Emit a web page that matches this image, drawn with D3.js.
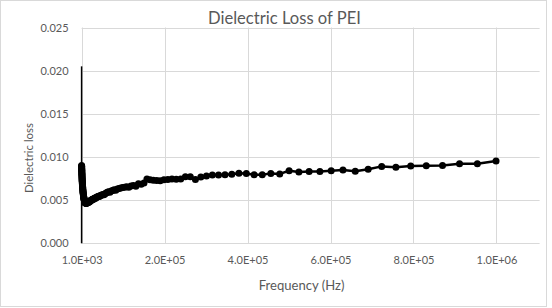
<!DOCTYPE html>
<html>
<head>
<meta charset="utf-8">
<script src="https://cdn.jsdelivr.net/npm/d3@7"></script>
<style>
html,body{margin:0;padding:0;background:#fff;}
svg{display:block;}
text{font-family:Lato,"Open Sans",sans-serif;fill:#595959;}
</style>
</head>
<body>
<svg id="chart" width="552" height="308"></svg>
<script>
// ---- data ----
const frequency = [
1000,1047,1096,1148,1202,1259,1318,1380,1445,1514,1585,1660,1738,1820,1905,1995,2089,2188,2291,2399,
2512,2630,2754,2884,3020,3162,3311,3467,3631,3802,3981,4169,4365,4571,4786,5012,5248,5495,5754,6026,
6310,6607,6918,7244,7586,7943,8318,8710,9120,9550,
10000,10470,10960,11480,12020,12590,13180,13800,14450,15140,15850,16600,17380,18200,19050,19950,20890,21880,22910,23990,
25120,26300,27540,28840,30200,31620,33110,34670,36310,38020,39810,41690,43650,45710,47860,50120,52480,54950,57540,60260,
63100,66070,69180,72440,75860,79430,83180,87100,91200,95500,
100000,104700,109600,114800,120200,125900,131800,138000,144500,151400,158500,166000,173800,182000,190500,199500,208900,218800,229100,239900,
251200,263000,275400,288400,302000,316200,331100,346700,363100,380200,398100,416900,436500,457100,478600,501200,524800,549500,575400,602600,
631000,660700,691800,724400,758600,794300,831800,871000,912000,955000,1000000
];
const dielectricLoss = [
0.0090,0.0089,0.0089,0.0088,0.0087,0.0086,0.0085,0.0085,0.0084,0.0083,0.0082,0.0081,0.0080,0.0079,0.0078,0.0077,0.0076,0.0075,0.0074,0.0073,
0.0072,0.0071,0.0070,0.0069,0.0068,0.0067,0.0066,0.0065,0.0064,0.0063,0.0062,0.0061,0.0060,0.0059,0.0058,0.0057,0.0056,0.0055,0.0054,0.0054,
0.0053,0.0052,0.0051,0.0051,0.0050,0.0049,0.0049,0.0048,0.0048,0.0047,
0.00470,0.00468,0.00465,0.00466,0.00463,0.00465,0.00468,0.00466,0.00470,0.00472,0.00470,0.00476,0.00478,0.00475,0.00482,0.00485,0.00490,0.00488,0.00495,0.00500,
0.00502,0.00506,0.00510,0.00508,0.00515,0.00520,0.00524,0.00522,0.00530,0.00536,0.00540,0.00545,0.00542,0.00550,0.00556,0.00560,0.00566,0.00563,0.00574,0.00582,
0.00590,0.00596,0.00592,0.00606,0.00612,0.00620,0.00616,0.00630,0.00636,0.00640,
0.00645,0.00650,0.00655,0.00648,0.00665,0.00670,0.00662,0.00690,0.00685,0.00700,0.00745,0.00735,0.00730,0.00728,0.00725,0.00735,0.00740,0.00745,0.00742,0.00745,
0.00770,0.00772,0.00740,0.00768,0.00780,0.00790,0.00792,0.00795,0.00800,0.00812,0.00808,0.00795,0.00795,0.00810,0.00804,0.00840,0.00827,0.00833,0.00833,0.00840,
0.00848,0.00835,0.00858,0.00891,0.00880,0.00896,0.00898,0.00900,0.00921,0.00921,0.00953
];
const spikeFrequency = [1000, 1000];
const spikeLoss = [0, 0.0205];
const xTicks = [1000, 201000, 401000, 601000, 801000, 1001000];
const yTicks = [0, 0.005, 0.010, 0.015, 0.020, 0.025];
const titleText = "Dielectric Loss of PEI";
const xTitle = "Frequency (Hz)";
const yTitle = "Dielectric loss";

// ---- layout ----
const W = 552, H = 308;
const plot = {left: 81.6, right: 539.6, top: 27.5, bottom: 243.3};
const svg = d3.select("#chart");

svg.append("rect").attr("x",0.5).attr("y",0.5).attr("width",546).attr("height",306)
  .attr("fill","#fff").attr("stroke","#d9d9d9").attr("stroke-width",1);

const x = d3.scaleLinear().domain([1000, 1105000]).range([plot.left, plot.right]);
const y = d3.scaleLinear().domain([0, 0.025]).range([plot.bottom, plot.top]);

const fmtX = v => {
  const s = d3.format(".1e")(v);
  const [m, e] = s.split("e");
  const sign = e[0];
  const digits = e.slice(1).padStart(2, "0");
  return m + "E" + sign + digits;
};

// gridlines
const grid = svg.append("g");
grid.selectAll("line.h").data(yTicks).join("line")
  .attr("x1", plot.left).attr("x2", plot.right)
  .attr("y1", d => Math.round(y(d)) + 0.5).attr("y2", d => Math.round(y(d)) + 0.5)
  .attr("stroke", "#d9d9d9").attr("stroke-width", 1);
grid.selectAll("line.v").data(xTicks).join("line")
  .attr("y1", plot.top).attr("y2", plot.bottom)
  .attr("x1", d => Math.round(x(d)) + 0.5).attr("x2", d => Math.round(x(d)) + 0.5)
  .attr("stroke", "#d9d9d9").attr("stroke-width", 1);

// axes labels via d3 axes
const xAxis = d3.axisBottom(x).tickValues(xTicks).tickFormat(fmtX).tickSize(0).tickPadding(13);
const gx = svg.append("g").attr("transform", `translate(0,${plot.bottom})`).call(xAxis);
gx.select(".domain").remove();
gx.selectAll("text").attr("font-size", 11).attr("fill", "#595959").style("font-family", "Lato");

const yAxis = d3.axisLeft(y).tickValues(yTicks).tickFormat(d3.format(".3f")).tickSize(0).tickPadding(13);
const gy = svg.append("g").attr("transform", `translate(${plot.left},0)`).call(yAxis);
gy.select(".domain").remove();
gy.selectAll("text").attr("font-size", 11).attr("fill", "#595959").style("font-family", "Lato");

// spike line
const spike = spikeFrequency.map((f, i) => [f, spikeLoss[i]]);
svg.append("path").datum(spike)
  .attr("d", d3.line().x(d => x(d[0])).y(d => y(d[1])))
  .attr("stroke", "#000").attr("stroke-width", 1.5).attr("fill", "none");

// series
const pts = frequency.map((f, i) => [f, dielectricLoss[i]]);
svg.append("path").datum(pts)
  .attr("d", d3.line().x(d => x(d[0])).y(d => y(d[1])))
  .attr("stroke", "#000").attr("stroke-width", 2.5).attr("fill", "none")
  .attr("stroke-linejoin", "round");
svg.append("g").selectAll("circle").data(pts).join("circle")
  .attr("cx", d => x(d[0])).attr("cy", d => y(d[1])).attr("r", 3.5).attr("fill", "#000");

// titles
function fitWidth(t, target) {
  const w = t.node().getComputedTextLength();
  const fs = parseFloat(t.attr("font-size"));
  t.attr("font-size", (fs * target / w).toFixed(2));
}
const tt = svg.append("text").attr("x", 284.5).attr("y", 24).attr("text-anchor", "middle")
  .attr("font-size", 17).text(titleText);
fitWidth(tt, 153);
const xt = svg.append("text").attr("x", 301.6).attr("y", 290).attr("text-anchor", "middle")
  .attr("font-size", 12).text(xTitle);
fitWidth(xt, 85.6);
const yt = svg.append("text").attr("transform", "translate(33,158) rotate(-90)").attr("text-anchor", "middle")
  .attr("font-size", 12).text(yTitle);
fitWidth(yt, 70);
</script>
</body>
</html>
